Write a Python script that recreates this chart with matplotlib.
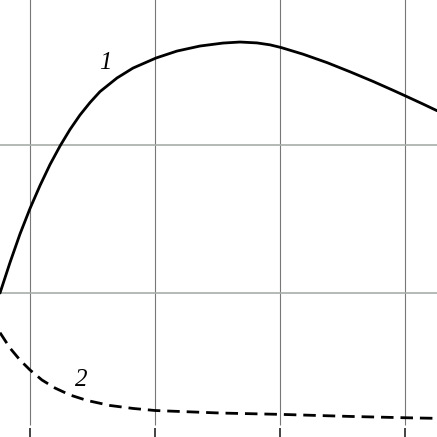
import numpy as np
import matplotlib
matplotlib.use("Agg")
import matplotlib.pyplot as plt

# curve 1 (solid)
x1 = [0.760, 0.840, 0.920, 1.000, 1.080, 1.160, 1.240, 1.320, 1.400, 1.480,
      1.560, 1.696, 1.824, 2.008, 2.176, 2.360, 2.544, 2.680, 2.816, 2.920,
      3.008, 3.184, 3.376, 3.560, 3.744, 3.904, 4.008, 4.144, 4.256]
y1 = [1.000, 1.206, 1.399, 1.571, 1.726, 1.868, 1.993, 2.105, 2.203, 2.287,
      2.361, 2.453, 2.520, 2.588, 2.635, 2.669, 2.689, 2.696, 2.690, 2.677,
      2.659, 2.614, 2.557, 2.495, 2.430, 2.370, 2.330, 2.277, 2.232]

# curve 2 (dashed)
x2 = [0.760, 0.840, 0.920, 1.000, 1.096, 1.200, 1.320, 1.456, 1.640, 1.824,
      2.000, 2.520, 3.000, 3.560, 4.008, 4.256]
y2 = [0.732, 0.628, 0.547, 0.480, 0.412, 0.358, 0.311, 0.274, 0.240, 0.220,
      0.206, 0.189, 0.180, 0.166, 0.157, 0.153]

xgrid = [1, 2, 3, 4]
ygrid = [1, 2]

plt.rcParams['lines.scale_dashes'] = False

fig = plt.figure(figsize=(4.37, 4.37), dpi=100)
ax = fig.add_axes([0, 0, 1, 1])
ax.set_xlim(0.76, 4.256)
ax.set_ylim(0.027, 2.98)

for s in ax.spines.values():
    s.set_visible(False)

# grid
ax.vlines(xgrid, 0.11, 3.0, colors='#777777', linewidth=0.8, zorder=1)
ax.hlines(ygrid, 0.7, 4.3, colors='#a9aeaa', linewidth=1.2, zorder=1)

ax.plot(x1, y1, color='black', linewidth=2.0, solid_capstyle='round',
        solid_joinstyle='round', zorder=3)
ax.plot(x2, y2, color='black', linewidth=2.0, dashes=(9, 5), zorder=3)

ax.text(1.60, 2.554, '1', fontsize=18, family='Liberation Serif', style='italic',
        ha='center', va='center')
ax.text(1.408, 0.412, '2', fontsize=18, family='Liberation Serif', style='italic',
        ha='center', va='center')

ax.set_xticks(xgrid)
ax.set_yticks([])
ax.tick_params(axis='x', direction='in', length=6.5, width=1.2, color='#222222',
               labelbottom=False)

fig.savefig('out.png', dpi=100)
